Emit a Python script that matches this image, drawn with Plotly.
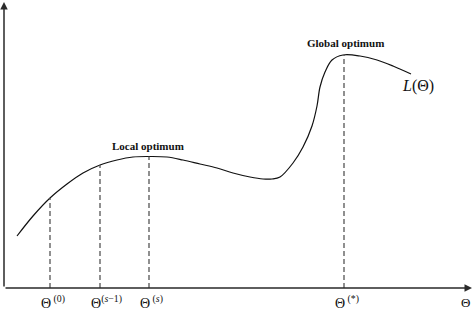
import numpy as np
import plotly.graph_objects as go

# Curve L(Θ) (x: Θ position, y: L value above the axis)
theta = [13, 29, 46, 63, 79, 96, 113, 129, 145, 163, 179, 196, 213, 229, 246,
         259, 268, 276, 289, 299, 308, 313, 316, 321, 328, 339, 356, 373, 389, 407]
loss = [52, 72, 90, 104, 115, 123, 128, 131, 131.5, 131, 128, 124, 120, 115, 111,
        109, 109, 111, 125, 141, 162, 182, 201, 216, 228, 233, 232, 228, 222, 214]

# Marked parameter values and their labels
tick_pos = [46, 96, 145, 340]
tick_labels = ["Θ<sup> (0)</sup>", "Θ<sup>(<i>s</i>−1)</sup>", "Θ<sup> (<i>s</i>)</sup>", "Θ<sup> (*)</sup>"]
axis_label = "Θ"
curve_label = "<i>L</i>(Θ)"
local_label = "<b>Local optimum</b>"
global_label = "<b>Global optimum</b>"

serif = "Liberation Serif, Times New Roman, serif"
axis_color = "#2a2a2a"
dash_color = "#555555"

fig = go.Figure()
fig.add_trace(go.Scatter(x=theta, y=loss, mode="lines", line=dict(color="#111111", width=1.2, shape="spline", smoothing=1.0),
                         hoverinfo="skip", showlegend=False))

tick_vals = np.interp(tick_pos, theta, loss)
for xp, yv in zip(tick_pos, tick_vals):
    fig.add_shape(type="line", x0=xp, x1=xp, y0=0, y1=yv, xref="x", yref="y",
                  line=dict(color=dash_color, width=1.3, dash="5px,3px"))

annotations = []
# axes with arrowheads
annotations.append(dict(x=468, y=0, ax=0, ay=0, xref="x", yref="y", axref="x", ayref="y",
                        showarrow=True, arrowhead=2, arrowsize=1, arrowwidth=1.5, arrowcolor=axis_color, text=""))
annotations.append(dict(x=0, y=286, ax=0, ay=0, xref="x", yref="y", axref="x", ayref="y",
                        showarrow=True, arrowhead=2, arrowsize=1, arrowwidth=1.5, arrowcolor=axis_color, text=""))

for xp, lab in zip(tick_pos, tick_labels):
    annotations.append(dict(x=xp, y=-14, xref="x", yref="y", text=lab, showarrow=False,
                            xanchor="left", xshift=-11, yanchor="middle",
                            font=dict(family=serif, size=14, color="#111111")))
annotations.append(dict(x=461, y=-14, xref="x", yref="y", text=axis_label, showarrow=False,
                        xanchor="center", yanchor="middle", font=dict(family=serif, size=13, color="#111111")))
annotations.append(dict(x=414, y=202, xref="x", yref="y", text=curve_label, showarrow=False,
                        xanchor="center", yanchor="middle", font=dict(family=serif, size=16, color="#111111")))
annotations.append(dict(x=144, y=142, xref="x", yref="y", text=local_label, showarrow=False,
                        xanchor="center", yanchor="middle", font=dict(family=serif, size=11, color="#111111")))
annotations.append(dict(x=341, y=245, xref="x", yref="y", text=global_label, showarrow=False,
                        xanchor="center", yanchor="middle", font=dict(family=serif, size=11, color="#111111")))

fig.update_layout(width=474, height=312, margin=dict(l=0, r=0, t=0, b=0),
                  paper_bgcolor="white", plot_bgcolor="white",
                  xaxis=dict(range=[-4, 470], visible=False, fixedrange=True),
                  yaxis=dict(range=[-24, 288], visible=False, fixedrange=True),
                  annotations=annotations, showlegend=False)
fig.write_html("out.html")
